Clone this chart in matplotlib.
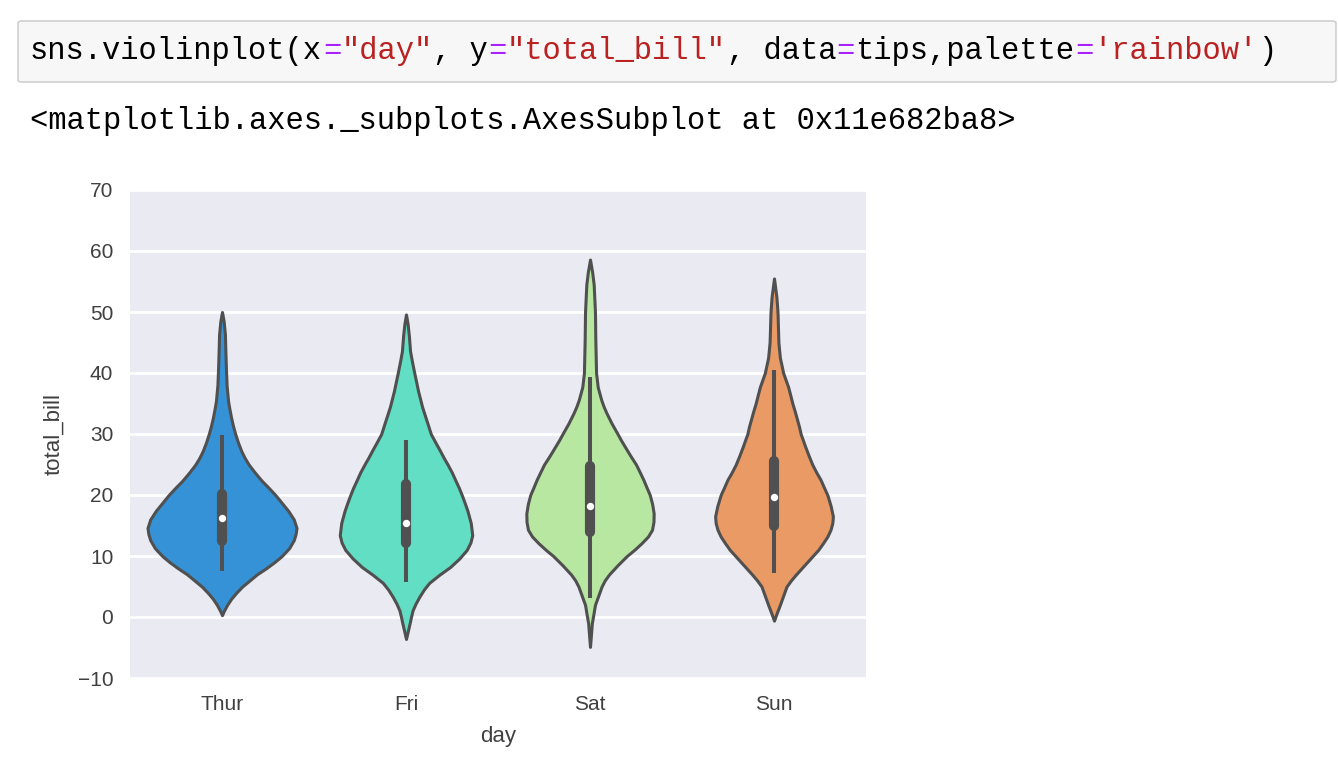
import colorsys
import matplotlib
matplotlib.use('Agg')
import matplotlib.pyplot as plt
from matplotlib.patches import FancyBboxPatch

days = ["Thur", "Fri", "Sat", "Sun"]

# violin outlines: total_bill value -> half width (category units)
thur_y = [0.3, 1, 2, 3, 4, 5, 6, 7, 8, 9, 10, 11.3, 12.6, 13.6, 14.6, 16, 17.4,
          18.7, 20, 21.2, 22.3, 23.7, 25, 26.1, 27.2, 28.6, 30, 31.3, 32.6, 34, 35.4,
          38, 41, 44, 46.3, 48.5, 50]
thur_w = [0.0, 0.01, 0.028, 0.05, 0.078, 0.11, 0.15, 0.19, 0.24, 0.285, 0.325, 0.365,
          0.39, 0.4, 0.405, 0.39, 0.36, 0.325, 0.29, 0.253, 0.217, 0.178, 0.145, 0.123,
          0.105, 0.087, 0.072, 0.06, 0.05, 0.041, 0.033, 0.025, 0.021, 0.018, 0.016,
          0.009, 0.0]

fri_y = [-3.6, -2.3, -1, 0, 1.1, 2.2, 3.3, 4.5, 5.6, 6.9, 8.2, 9.6, 11, 12.2, 13.4,
         15.4, 17.4, 18.7, 20, 21.2, 22.3, 23.7, 25, 26.1, 27.3, 28.6, 30, 31.7, 34.4,
         37, 40, 41.8, 43.6, 46, 48, 49.6]
fri_w = [0.0, 0.01, 0.02, 0.027, 0.036, 0.052, 0.072, 0.097, 0.126, 0.18, 0.24, 0.29,
         0.33, 0.35, 0.36, 0.352, 0.334, 0.319, 0.303, 0.287, 0.27, 0.249, 0.226, 0.205,
         0.184, 0.16, 0.135, 0.117, 0.088, 0.066, 0.045, 0.033, 0.022, 0.016, 0.009, 0.0]

sat_y = [-4.9, -3, -1, 0, 2, 3.5, 5, 6, 7, 8.5, 10, 11, 12.1, 13.2, 14.3, 15.6, 17,
         18.5, 20, 21.2, 22.5, 23.7, 25, 26.4, 27.9, 29, 30, 31.7, 33.4, 34.5, 35.6,
         37.7, 40, 45.4, 50, 54.5, 56.5, 58.6]
sat_w = [0.0, 0.005, 0.01, 0.016, 0.027, 0.045, 0.063, 0.08, 0.104, 0.15, 0.2, 0.24,
         0.28, 0.315, 0.337, 0.345, 0.346, 0.338, 0.325, 0.308, 0.29, 0.271, 0.25, 0.22,
         0.19, 0.168, 0.15, 0.118, 0.09, 0.074, 0.061, 0.042, 0.033, 0.029, 0.027, 0.02,
         0.012, 0.0]

sun_y = [-0.6, 0.5, 2, 3.5, 5, 6, 7, 8.5, 10, 11, 12.1, 13.2, 14.3, 15.4, 16.5, 18.2,
         20, 21.2, 22.5, 23.7, 25, 26.4, 27.9, 29, 30, 31.2, 32.3, 33.7, 35, 36.3, 37.7,
         40, 42.5, 45, 48, 50, 52.5, 55.5]
sun_w = [0.0, 0.013, 0.032, 0.05, 0.068, 0.092, 0.12, 0.165, 0.21, 0.24, 0.266, 0.29,
         0.307, 0.317, 0.32, 0.308, 0.29, 0.272, 0.253, 0.23, 0.208, 0.189, 0.17, 0.157,
         0.145, 0.136, 0.126, 0.113, 0.1, 0.089, 0.077, 0.05, 0.032, 0.024, 0.021, 0.019,
         0.013, 0.0]

# inner box stats
whisk_lo = [7.51, 5.75, 3.07, 7.25]
q1 = [12.44, 12.09, 13.91, 14.99]
medians = [16.2, 15.38, 18.24, 19.63]
q3 = [20.16, 21.75, 24.74, 25.6]
whisk_hi = [29.8, 28.97, 39.42, 40.55]

code_parts = [("sns.violinplot(x", "black"), ("=", "#aa22ff"), ('"day"', "#ba2121"),
              (", y", "black"), ("=", "#aa22ff"), ('"total_bill"', "#ba2121"),
              (", data", "black"), ("=", "#aa22ff"), ("tips,palette", "black"),
              ("=", "#aa22ff"), ("'rainbow'", "#ba2121"), (")", "black")]
out_text = "<matplotlib.axes._subplots.AxesSubplot at 0x11e682ba8>"

W, H = 1338, 758
fig = plt.figure(figsize=(W / 100, H / 100), dpi=100)

# code cell
cell = FancyBboxPatch((18 / W, 1 - 82 / H), 1318 / W, 61 / H,
                      boxstyle="round,pad=0,rounding_size=0.003",
                      transform=fig.transFigure, facecolor="#f7f7f7",
                      edgecolor="#cfcfcf", linewidth=1.2)
fig.patches.append(cell)
cw = 0.6 * 22 * 100 / 72
n = 0
for txt, col in code_parts:
    fig.text((30 + n * cw) / W, 1 - 51 / H, txt, color=col, fontsize=22,
             family="Liberation Mono", va="center", ha="left")
    n += len(txt)
fig.text(30 / W, 1 - 121 / H, out_text, color="black", fontsize=22,
         family="Liberation Mono", va="center", ha="left")

# violin axes
ax = fig.add_axes([130 / W, 1 - 678 / H, 736 / W, 488 / H])
ax.set_facecolor("#eaeaf2")
for s in ax.spines.values():
    s.set_visible(False)

cmap = plt.cm.rainbow
colors = []
for v in [0.2, 0.4, 0.6, 0.8]:
    r, g, b, _ = cmap(v)
    h, l, s = colorsys.rgb_to_hls(r, g, b)
    colors.append(colorsys.hls_to_rgb(h, l, s * 0.75))
gray = "#505050"

profiles = [(thur_y, thur_w), (fri_y, fri_w), (sat_y, sat_w), (sun_y, sun_w)]
for i, (ys, ws) in enumerate(profiles):
    left = [i - w for w in ws]
    right = [i + w for w in ws]
    ax.fill_betweenx(ys, left, right, facecolor=colors[i], edgecolor=gray,
                     linewidth=2.2, joinstyle="round", zorder=2)
    ax.plot([i, i], [whisk_lo[i], whisk_hi[i]], color=gray, linewidth=2.9,
            solid_capstyle="butt", zorder=3)
    ax.plot([i, i], [q1[i], q3[i]], color=gray, linewidth=7.3,
            solid_capstyle="round", zorder=3)
    ax.scatter([i], [medians[i]], s=28, color="white", zorder=4, linewidth=0)

ax.set_xlim(-0.5, 3.5)
ax.set_ylim(-10, 70)
ax.set_yticks(range(-10, 71, 10))
ax.set_xticks(range(len(days)))
ax.set_xticklabels(days)
ax.yaxis.grid(True, color="white", linewidth=2)
ax.xaxis.grid(False)
ax.set_axisbelow(True)
ax.tick_params(length=0, labelsize=15, labelcolor="#404040", pad=12)
for lab in ax.get_xticklabels() + ax.get_yticklabels():
    lab.set_family("Liberation Sans")
ax.set_xlabel("day", fontsize=16, family="Liberation Sans", color="#404040", labelpad=9)
ax.set_ylabel("total_bill", fontsize=16, family="Liberation Sans", color="#404040",
              labelpad=10)

fig.savefig("out.png", dpi=100)
